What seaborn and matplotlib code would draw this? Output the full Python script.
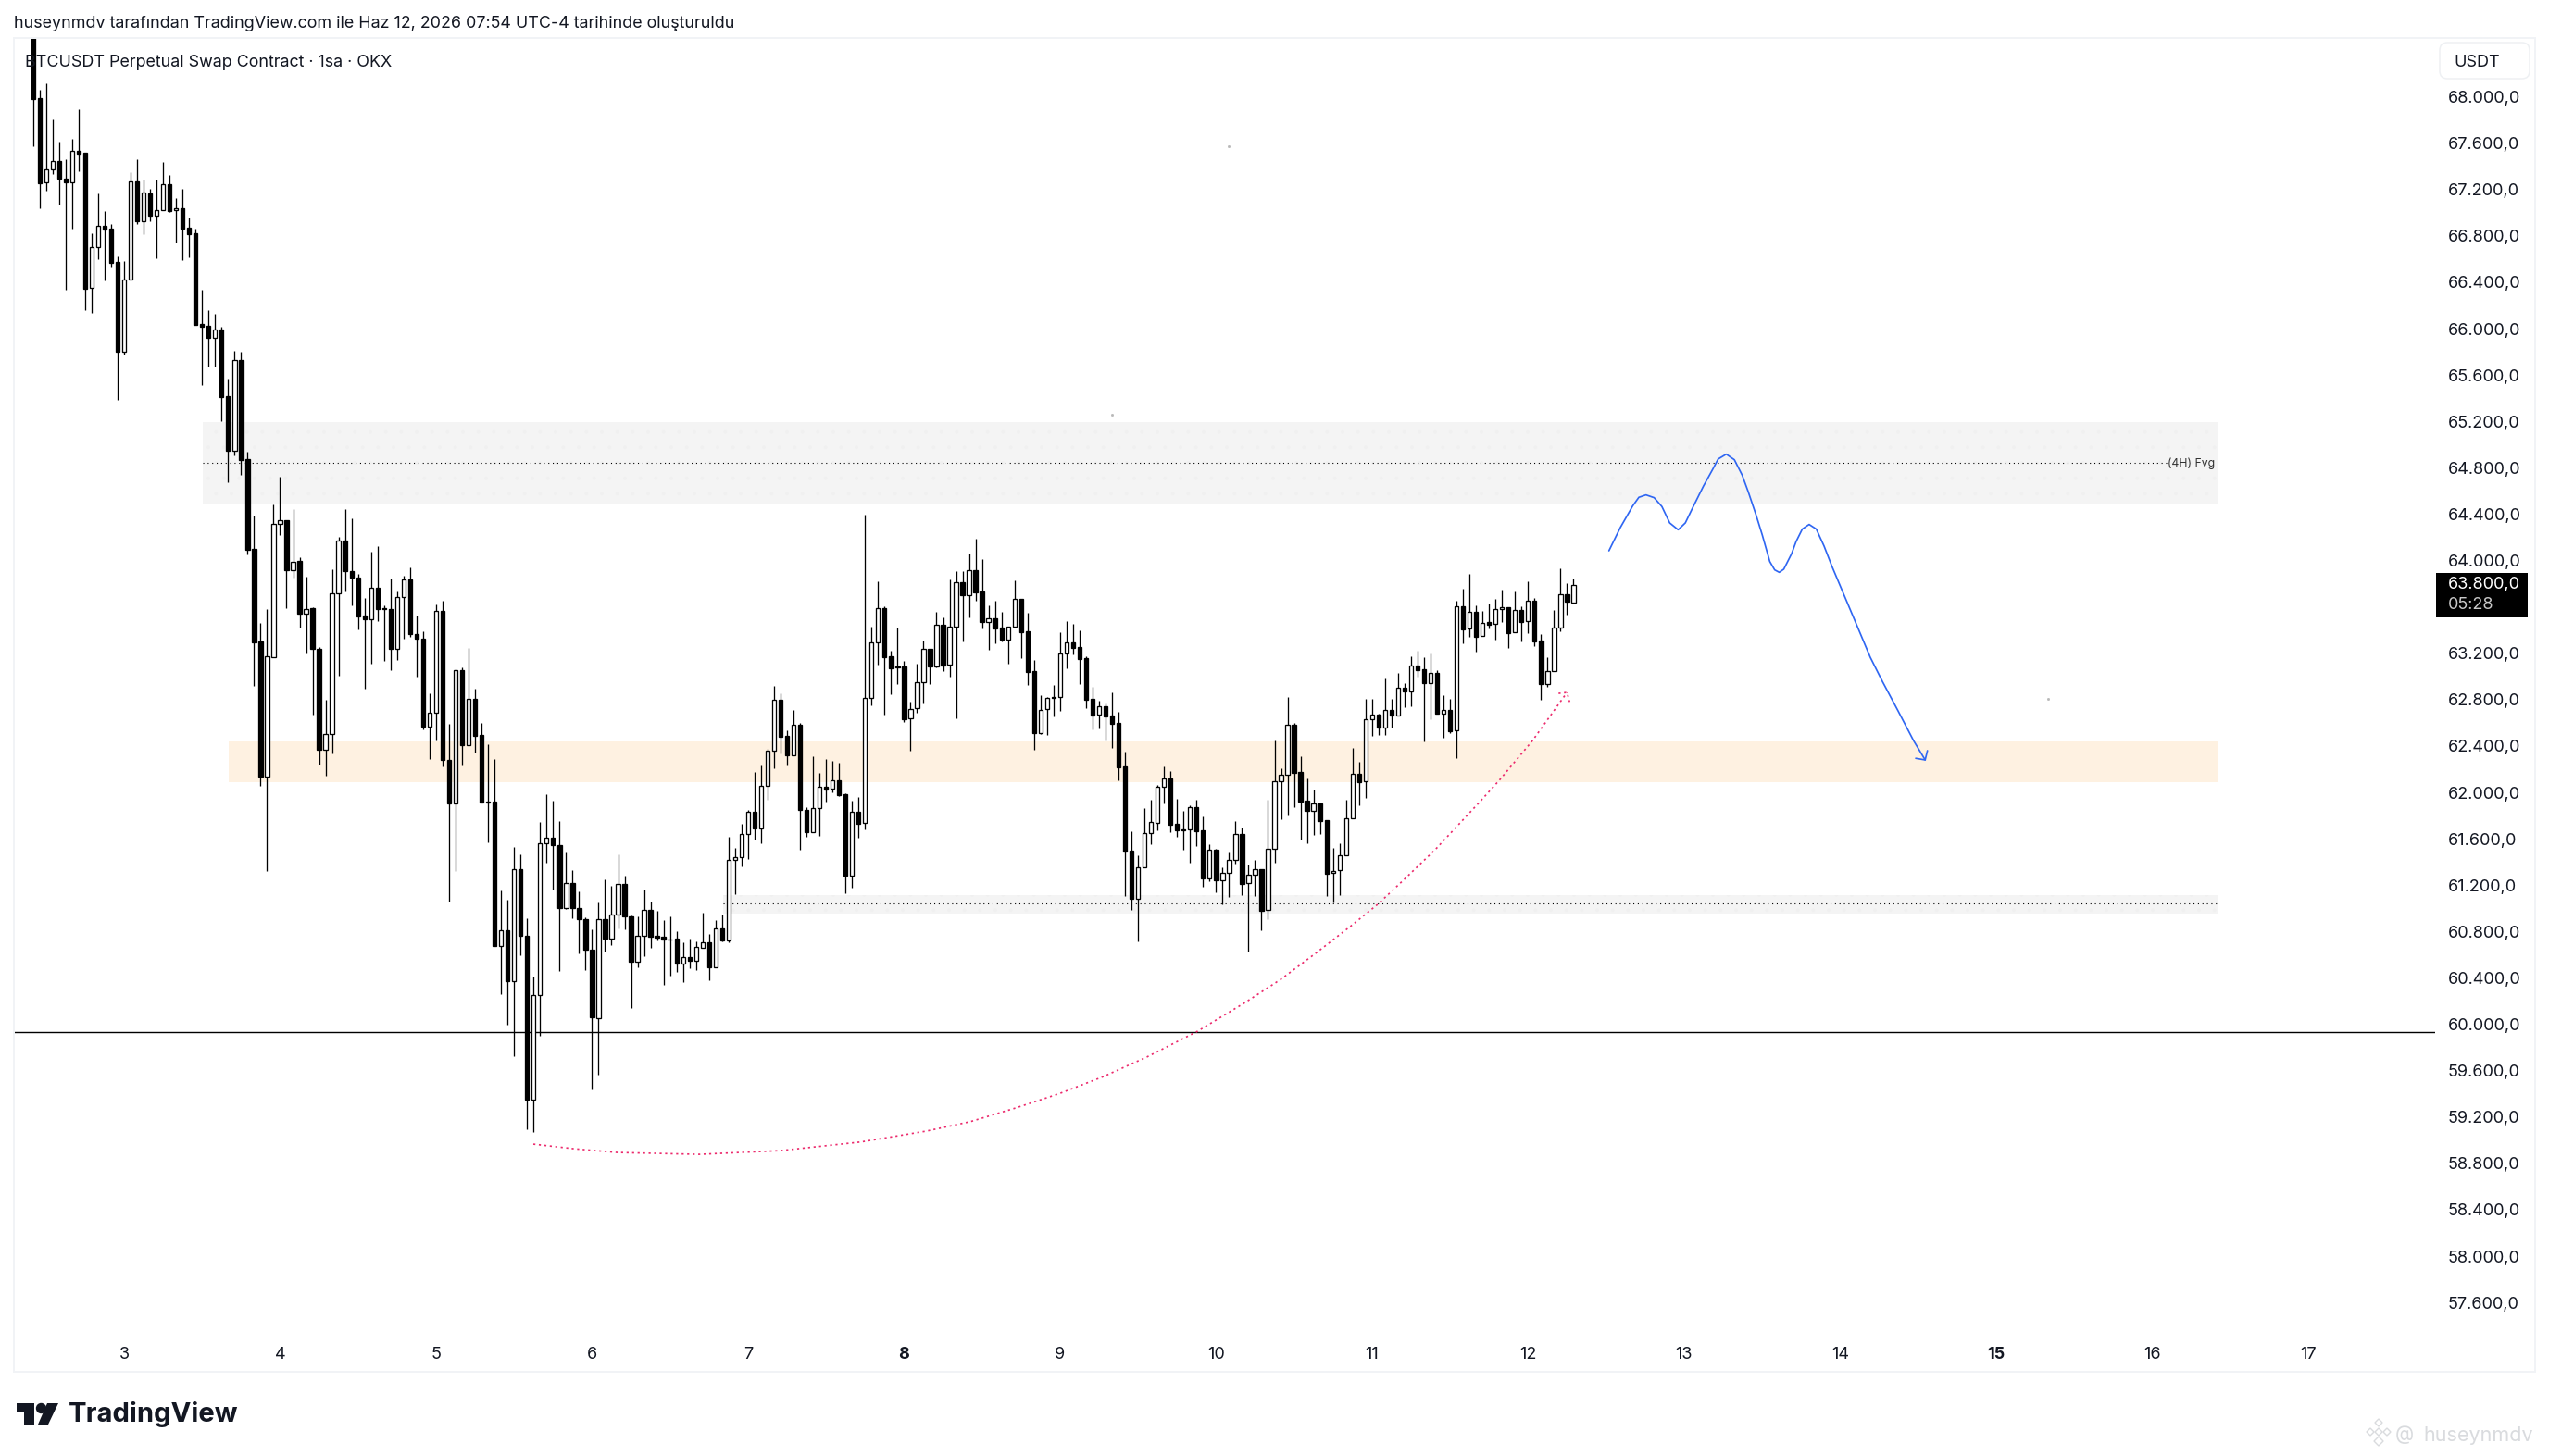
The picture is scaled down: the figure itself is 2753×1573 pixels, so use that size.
import numpy as np
import pandas as pd
import seaborn as sns
import matplotlib.pyplot as plt
from matplotlib.patches import Rectangle, FancyBboxPatch, Polygon

# hourly candles, index 0 is the first bar on the left
highs = [68600, 68062, 68115, 67802, 67610, 67458, 67637, 67889, 67517, 66820,
         67163, 67011, 66899, 66620, 66580, 67349, 67458, 67285, 67203, 67283,
         67437, 67323, 67123, 67203, 66955, 66860, 66333, 66157, 66125, 66013,
         65566, 65806, 65800, 64937, 64387, 63462, 63580, 64484, 64725, 64346,
         64444, 64028, 63861, 63597, 63250, 62798, 63926, 64203, 64444, 64362,
         63882, 63674, 64073, 64122, 63613, 63841, 63731, 63865, 63939, 63523,
         63393, 62851, 63621, 63650, 62595, 63063, 63075, 63246, 62892, 62603,
         62415, 62285, 61157, 61075, 61532, 61466, 60912, 60415, 61747, 61984,
         61931, 61751, 61483, 61332, 61145, 60921, 60815, 61047, 61250, 61194,
         61466, 61281, 60939, 60934, 61161, 61057, 60978, 60897, 60931, 60799,
         60707, 60738, 60715, 60962, 60780, 60897, 60950, 61614, 61525, 61726,
         61850, 62174, 62230, 62376, 62917, 62852, 62536, 62707, 62603, 61872,
         62312, 62169, 62284, 62275, 62253, 61992, 61928, 61964, 64395, 63429,
         63821, 63602, 63222, 63419, 63134, 62780, 63107, 63307, 63235, 63557,
         63509, 63834, 63906, 63906, 64060, 64188, 64012, 63610, 63653, 63557,
         63432, 63826, 63666, 63549, 63142, 62839, 62820, 62927, 63379, 63477,
         63453, 63395, 63171, 62908, 62788, 62767, 62860, 62695, 62349, 61663,
         61455, 61862, 61934, 62062, 62221, 62181, 61942, 61841, 61889, 61934,
         61790, 61553, 61516, 61351, 61482, 61750, 61694, 61375, 61415, 61335,
         61937, 62448, 62205, 62823, 62597, 62309, 62120, 62022, 61915, 61761,
         61521, 61561, 61937, 62384, 62261, 62804, 62807, 62679, 62980, 62804,
         63028, 62942, 63171, 63219, 63163, 63195, 63052, 62839, 62804, 63650,
         63757, 63885, 63611, 63565, 63629, 63669, 63749, 63595, 63730, 63605,
         63821, 63677, 63363, 63166, 63573, 63933, 63805, 63845]

lows = [67575, 67040, 67192, 67336, 67072, 66338, 66865, 67357, 66162, 66138,
        66599, 66418, 66538, 65388, 65779, 66420, 66905, 66817, 66929, 66609,
        67019, 67009, 66745, 66593, 66617, 66035, 65516, 65675, 65675, 65200,
        64672, 64908, 64737, 64049, 62920, 62057, 61324, 63169, 64216, 63588,
        63849, 63421, 63197, 62672, 62240, 62146, 62338, 63010, 63735, 63613,
        63405, 62896, 63108, 63478, 63136, 63055, 63144, 63328, 63344, 62998,
        62546, 62289, 62448, 62224, 61059, 61324, 62228, 62407, 62342, 61910,
        61568, 60672, 60257, 59996, 59723, 60599, 59092, 59067, 59898, 61393,
        61161, 60456, 60994, 60912, 60611, 60469, 59438, 59568, 60625, 60682,
        60827, 60822, 60138, 60491, 60586, 60659, 60724, 60340, 60418, 60452,
        60362, 60480, 60466, 60662, 60379, 60494, 60712, 60710, 61121, 61362,
        61424, 61592, 61561, 61936, 62208, 62334, 62230, 62323, 61508, 61620,
        61659, 61628, 61922, 62004, 61970, 61132, 61180, 61611, 61684, 62754,
        63105, 62674, 62849, 62935, 62610, 62360, 62690, 62770, 62935, 63081,
        63046, 63001, 62639, 63302, 63509, 63653, 63414, 63230, 63286, 63302,
        63110, 63432, 63158, 62927, 62368, 62503, 62495, 62655, 62703, 63070,
        63190, 62935, 62727, 62546, 62554, 62450, 62386, 62107, 61109, 60989,
        60718, 61351, 61556, 61676, 61907, 61660, 61617, 61508, 61394, 61540,
        61189, 61237, 61141, 61037, 61098, 61388, 61117, 60630, 61109, 60811,
        60909, 61396, 61769, 61804, 61875, 61596, 61564, 61636, 61644, 61109,
        61051, 61117, 61455, 61774, 61889, 61953, 62487, 62495, 62495, 62559,
        62666, 62735, 62746, 63001, 62440, 62634, 62682, 62474, 62514, 62296,
        63286, 63344, 63214, 63347, 63414, 63318, 63470, 63246, 63379, 63302,
        63374, 63265, 62802, 62911, 63044, 63392, 63533, 63632]

opens = [68600, 67985, 67259, 67370, 67442, 67290, 67264, 67530, 67517, 66349,
         66700, 66883, 66859, 66572, 65803, 66420, 67267, 66923, 67163, 66971,
         67025, 67243, 67019, 67035, 66867, 66820, 66037, 66021, 65923, 65989,
         65415, 64949, 65726, 64875, 64102, 63303, 62134, 63169, 64313, 64346,
         63914, 63996, 63544, 63588, 63238, 62371, 62501, 63715, 64175, 63906,
         63849, 63523, 63491, 63768, 63588, 63584, 63234, 63682, 63833, 63368,
         63324, 62570, 62688, 63568, 62277, 61902, 63051, 62407, 62810, 62493,
         61918, 61918, 60672, 60807, 60375, 61336, 60766, 59348, 60249, 61564,
         61613, 61544, 61006, 61222, 61006, 60904, 60640, 60054, 60903, 60740,
         60950, 61214, 60928, 60541, 60760, 60990, 60760, 60752, 60735, 60738,
         60525, 60581, 60550, 60662, 60704, 60494, 60830, 60726, 61421, 61443,
         61645, 61830, 61693, 62054, 62357, 62796, 62485, 62323, 62581, 61852,
         61659, 61861, 62046, 62029, 62102, 61981, 61284, 61830, 61734, 62812,
         63291, 63589, 63171, 63084, 63084, 62636, 62724, 62948, 63235, 63089,
         63443, 63100, 63427, 63810, 63704, 63914, 63730, 63472, 63499, 63419,
         63320, 63432, 63666, 63387, 63044, 62514, 62716, 62820, 62820, 63195,
         63294, 63251, 63155, 62804, 62668, 62740, 62660, 62597, 62221, 61495,
         61085, 61351, 61647, 61740, 62046, 62118, 61726, 61678, 61678, 61870,
         61671, 61261, 61503, 61245, 61309, 61415, 61639, 61215, 61293, 61335,
         60984, 61511, 62094, 62150, 62581, 62173, 61926, 61844, 61902, 61761,
         61303, 61327, 61455, 61774, 62157, 62094, 62634, 62668, 62562, 62708,
         62666, 62900, 62873, 63091, 63060, 62945, 63028, 62682, 62708, 62533,
         63603, 63411, 63555, 63347, 63467, 63451, 63579, 63595, 63379, 63571,
         63475, 63651, 63307, 62937, 63044, 63419, 63706, 63640]

closes = [67983, 67256, 67370, 67442, 67290, 67264, 67530, 67511, 66346, 66700,
          66883, 66857, 66569, 65803, 66420, 67267, 66923, 67171, 66971, 67025,
          67243, 67017, 67035, 66865, 66817, 66035, 66019, 65923, 65989, 65412,
          64949, 65726, 64867, 64093, 63295, 62134, 63173, 64313, 64346, 63914,
          63992, 63544, 63584, 63234, 62366, 62501, 63715, 64175, 63906, 63849,
          63519, 63491, 63768, 63584, 63580, 63234, 63682, 63833, 63368, 63324,
          62566, 62688, 63568, 62277, 61902, 63051, 62407, 62810, 62489, 61914,
          61914, 60672, 60807, 60375, 61336, 60766, 59348, 60249, 61564, 61613,
          61544, 61006, 61222, 61006, 60904, 60640, 60057, 60903, 60740, 60950,
          61214, 60928, 60541, 60760, 60990, 60757, 60746, 60732, 60732, 60525,
          60581, 60550, 60665, 60704, 60494, 60830, 60726, 61421, 61443, 61645,
          61830, 61693, 62054, 62357, 62796, 62483, 62323, 62581, 61852, 61659,
          61861, 62046, 62026, 62102, 61976, 61284, 61830, 61732, 62812, 63291,
          63586, 63169, 63073, 63081, 62634, 62722, 62948, 63235, 63089, 63443,
          63097, 63427, 63810, 63704, 63914, 63728, 63472, 63499, 63416, 63320,
          63432, 63666, 63384, 63041, 62514, 62714, 62817, 62817, 63195, 63291,
          63249, 63153, 62801, 62666, 62740, 62658, 62594, 62219, 61492, 61085,
          61351, 61647, 61742, 62046, 62118, 61724, 61676, 61676, 61870, 61668,
          61261, 61503, 61245, 61309, 61415, 61639, 61213, 61293, 61335, 60981,
          61511, 62094, 62150, 62581, 62171, 61923, 61844, 61902, 61756, 61301,
          61325, 61455, 61774, 62157, 62091, 62634, 62668, 62562, 62708, 62666,
          62900, 62871, 63091, 63054, 62942, 63028, 62682, 62708, 62527, 63603,
          63408, 63555, 63344, 63464, 63448, 63579, 63595, 63376, 63571, 63472,
          63651, 63305, 62937, 63044, 63419, 63706, 63643, 63786]

# drawn projection (blue) in bar index / price
proj_x = [242.45, 244.2, 246.1, 247.05, 248.15, 249.4, 250.6, 251.8, 253.1, 254.2,
          255.35, 257.0, 258.45, 259.25, 260.5, 261.75, 262.95, 263.9, 265.1, 266.05,
          267.2, 267.95, 268.65, 269.35, 270.55, 271.25, 272.2, 273.25, 274.35, 275.55,
          276.75, 278.85, 281.25, 282.65, 284.55, 286.95, 289.3, 291.1]
proj_y = [64084, 64284, 64470, 64545, 64566, 64542, 64465, 64324, 64265, 64324,
          64457, 64643, 64790, 64875, 64917, 64869, 64736, 64590, 64390, 64218,
          63991, 63919, 63898, 63925, 64058, 64164, 64271, 64311, 64271, 64124,
          63951, 63672, 63353, 63166, 62954, 62701, 62448, 62280]
proj_head_x = [289.65, 291.1, 291.45]
proj_head_y = [62294, 62280, 62360]

# pink dotted curve from the low
curve_x = [76.97, 83.2, 89.9, 102.5, 115.0, 127.4, 137.4, 144.2, 151.0, 157.8, 164.6,
           171.4, 179.1, 186.4, 191.9, 197.3, 202.8, 206.9, 210.7, 215.7, 222.6, 225.7,
           230.7, 236.0]
curve_y = [58966, 58926, 58894, 58878, 58910, 58985, 59078, 59160, 59275, 59400, 59547,
           59719, 59938, 60185, 60385, 60611, 60850, 61036, 61236, 61505, 61920, 62112,
           62447, 62862]
curve_head_x = [234.7, 236.0, 236.4]
curve_head_y = [62854, 62862, 62780]

# stray marks on the chart
speck_x = [184, 166, 310]
speck_y = [67573, 65257, 62806]

# levels
fvg_zone = (64480, 65193)
fvg_mid = 64839
demand_zone = (62090, 62440)
low_zone = (60956, 61112)
low_mid = 61040
round_level = 59936

price_ticks = [68000, 67600, 67200, 66800, 66400, 66000, 65600, 65200, 64800, 64400, 64000,
               63200, 62800, 62400, 62000, 61600, 61200, 60800, 60400, 60000, 59600,
               59200, 58800, 58400, 58000, 57600]
day_labels = [3, 4, 5, 6, 7, 8, 9, 10, 11, 12, 13, 14, 15, 16, 17]
bold_days = [8, 15]

W, H = 2753, 1573
FONT = 'Inter'
INK = '#131722'


def fmt_price(v):
    return f'{v:,.1f}'.replace(',', 'X').replace('.', ',').replace('X', '.')


def px(x, y):
    return x / W, 1 - y / H


def pts(n):
    # pixels to points at dpi 100
    return n * 0.72


sns.set_theme(style='white')
plt.rcParams['font.family'] = [FONT, 'DejaVu Sans']
plt.rcParams['hatch.linewidth'] = 0.3

candles = pd.DataFrame({'high': highs, 'low': lows, 'open': opens, 'close': closes})
candles['bar'] = candles.index
candles['top'] = candles[['open', 'close']].max(axis=1)
candles['bot'] = candles[['open', 'close']].min(axis=1)
candles['up'] = candles['close'] > candles['open']

fig = plt.figure(figsize=(W / 100, H / 100), dpi=100, facecolor='white')
ax = fig.add_axes([15 / W, 1 - 1440 / H, (2630 - 15) / W, (1440 - 41) / H])
ax.set_xlim(-2.95, 369.56)
ax.set_ylim(57338, 68507)
sns.despine(ax=ax, left=True, bottom=True, right=True, top=True)

# zones under the candles
ax.fill_between([26.1, 336.1], *fvg_zone, facecolor='#f4f4f4', edgecolor='#f0f0f0', hatch='.', lw=0, zorder=1)
ax.fill_between([30.1, 336.1], *demand_zone, color='#fef1e1', lw=0, zorder=1)
ax.fill_between([106.2, 336.1], *low_zone, facecolor='#f4f4f4', edgecolor='#f0f0f0', hatch='.', lw=0, zorder=1)
ax.hlines(fvg_mid, 26.1, 328.2, color='black', lw=pts(1.1), linestyle=(0, (1, 3.4)), zorder=2)
ax.hlines(low_mid, 106.2, 336.1, color='black', lw=pts(1.1), linestyle=(0, (1, 3.4)), zorder=2)
ax.axhline(round_level, color='black', lw=pts(1.4), zorder=2)
ax.text(328.4, fvg_mid, '(4H) Fvg', fontsize=8.8, color='#333333', va='center', ha='left')
ax.plot(speck_x, speck_y, ls='none', marker='s', ms=1, color='#b8b8b8', zorder=2)

# candles
ax.vlines(candles['bar'], candles['low'], candles['high'], color='black', lw=pts(1.3), zorder=3)
up = candles[candles['up']]
down = candles[~candles['up']]
ax.bar(up['bar'], up['top'] - up['bot'], bottom=up['bot'], width=0.62,
       facecolor='white', edgecolor='black', linewidth=pts(1.3), zorder=4)
ax.bar(down['bar'], down['top'] - down['bot'], bottom=down['bot'], width=0.62,
       facecolor='black', edgecolor='black', linewidth=pts(1.3), zorder=4)

# hand drawn lines
sns.lineplot(x=proj_x, y=proj_y, sort=False, estimator=None, color='#2f66f2', lw=pts(1.7), ax=ax, zorder=5)
sns.lineplot(x=proj_head_x, y=proj_head_y, sort=False, estimator=None, color='#2f66f2', lw=pts(1.7), ax=ax, zorder=5)
sns.lineplot(x=curve_x, y=curve_y, sort=False, estimator=None, color='#ec2a6c', lw=pts(1.7),
             linestyle=(0, (1.3, 2.2)), ax=ax, zorder=5)
sns.lineplot(x=curve_head_x, y=curve_head_y, sort=False, estimator=None, color='#ec2a6c', lw=pts(1.7),
             linestyle=(0, (1.3, 2.2)), ax=ax, zorder=5)

# axes
ax.grid(False)
ax.yaxis.tick_right()
ax.set_yticks(price_ticks)
ax.set_yticklabels([fmt_price(v) for v in price_ticks], fontsize=13, color=INK)
ax.set_xticks([14 + 24 * (d - 3) for d in day_labels])
ax.set_xticklabels([str(d) for d in day_labels], fontsize=13, color=INK)
for lab, d in zip(ax.get_xticklabels(), day_labels):
    if d in bold_days:
        lab.set_fontweight('bold')
ax.tick_params(axis='y', length=0, pad=10)
ax.tick_params(axis='x', length=0, pad=11)

# chart frame
fx, fy = px(15, 1482)
fig.add_artist(Rectangle((fx, fy), (2738 - 15) / W, (1482 - 41) / H, transform=fig.transFigure,
                         fill=False, edgecolor='#f1f3f6', lw=pts(2)))

# header texts
tx, ty = px(15, 26)
fig.text(tx, ty, 'huseynmdv tarafından TradingView.com ile Haz 12, 2026 07:54 UTC-4 tarihinde oluşturuldu',
         fontsize=12.9, color=INK, va='center')
tx, ty = px(27, 67)
fig.text(tx, ty, 'BTCUSDT Perpetual Swap Contract · 1sa · OKX', fontsize=12.9, color=INK, va='center')

# currency button
bx, by = px(2635, 85)
fig.add_artist(FancyBboxPatch((bx, by), 97 / W, 39 / H, transform=fig.transFigure,
                              boxstyle='round,pad=0,rounding_size=0.003', mutation_aspect=W / H,
                              facecolor='white', edgecolor='#eef0f3', lw=pts(1.5)))
tx, ty = px(2650, 67)
fig.text(tx, ty, 'USDT', fontsize=13, color=INK, va='center')

# last price tag
bx, by = px(2631, 666.5)
fig.add_artist(Rectangle((bx, by), 99 / W, 47.5 / H, transform=fig.transFigure, facecolor='black', lw=0))
tx, ty = px(2644, 632)
fig.text(tx, ty, fmt_price(63800), fontsize=13, color='white', va='center')
tx, ty = px(2644, 653)
fig.text(tx, ty, '05:28', fontsize=13, color='#c8c8c8', va='center')

# logo
logo = '#131722'
t_shape = [(18, 1516), (37, 1516), (37, 1539), (25.5, 1539), (25.5, 1525), (18, 1525)]
slash = [(51, 1516), (63, 1516), (52, 1539), (41, 1539)]
for shape in (t_shape, slash):
    fig.add_artist(Polygon([px(*p) for p in shape], closed=True, transform=fig.transFigure, facecolor=logo, lw=0))
cx, cy = px(44, 1521)
fig.add_artist(plt.Line2D([cx], [cy], marker='o', markersize=pts(10), color=logo, lw=0, transform=fig.transFigure))
tx, ty = px(74, 1528)
fig.text(tx, ty, 'TradingView', fontsize=21, fontweight='bold', color=logo, va='center')

# watermark: small diamond mark, then the handle
mark = '#d9dbde'
diamonds = [(2569, 1537, 4), (2560, 1547, 4), (2578, 1547, 4), (2569, 1547, 4), (2569, 1557, 5)]
for dx, dy, r in diamonds:
    fig.add_artist(Polygon([px(dx, dy - r), px(dx + r, dy), px(dx, dy + r), px(dx - r, dy)], closed=True,
                           transform=fig.transFigure, fill=False, edgecolor=mark, lw=1))
tx, ty = px(2587, 1550)
fig.text(tx, ty, '@', fontsize=15, color=mark, va='center')
tx, ty = px(2617, 1551)
fig.text(tx, ty, 'huseynmdv', fontsize=15.5, color=mark, va='center')

fig.savefig('out.png', dpi=100, facecolor='white')
